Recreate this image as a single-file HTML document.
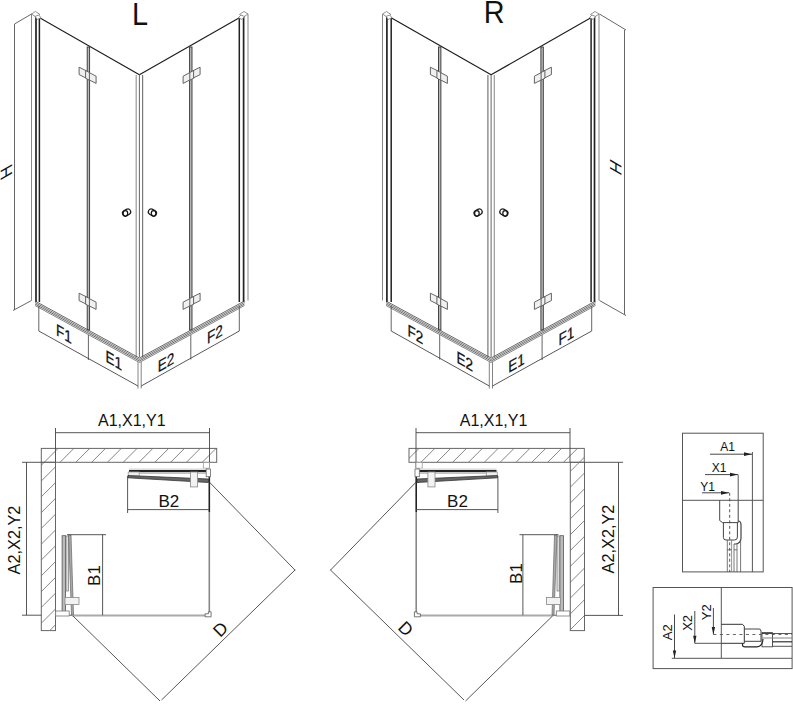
<!DOCTYPE html>
<html><head><meta charset="utf-8"><style>
html,body{margin:0;padding:0;background:#fff;}
svg{display:block;}
text{font-family:"Liberation Sans", sans-serif;fill:#111;}
</style></head><body>
<svg width="793" height="704" viewBox="0 0 793 704">
<rect width="793" height="704" fill="#fff"/>
<g id="elevL"><line x1="31.5" y1="14" x2="31.5" y2="300.5" stroke="#888" stroke-width="1" />
<line x1="36" y1="17" x2="36" y2="302" stroke="#222" stroke-width="1.7" />
<line x1="39.4" y1="17" x2="39.4" y2="302" stroke="#222" stroke-width="1.5" />
<polygon points="31.5,14 35.5,11.5 40,14.5 36,17" stroke="#777" stroke-width="0.8" fill="#fff"/>
<polygon points="35,16.5 38.5,15 41,17.5 37.5,19.5" stroke="#777" stroke-width="0.8" fill="#fff"/>
<line x1="40.5" y1="18.3" x2="139.4" y2="74.8" stroke="#1a1a1a" stroke-width="1.1" />
<line x1="139.4" y1="74.8" x2="238.5" y2="18.3" stroke="#1a1a1a" stroke-width="1.1" />
<line x1="136.2" y1="75" x2="136.2" y2="357" stroke="#999" stroke-width="1.2" />
<line x1="139.4" y1="75" x2="139.4" y2="357" stroke="#666" stroke-width="1" />
<line x1="142.6" y1="75" x2="142.6" y2="357" stroke="#777" stroke-width="1.2" />
<line x1="248" y1="14" x2="248" y2="300.5" stroke="#888" stroke-width="1" />
<line x1="243.6" y1="17" x2="243.6" y2="302" stroke="#222" stroke-width="1.7" />
<line x1="239.3" y1="17" x2="239.3" y2="302" stroke="#222" stroke-width="1.5" />
<polygon points="248,14 244,11.5 239.5,14.5 243.5,17" stroke="#777" stroke-width="0.8" fill="#fff"/>
<polygon points="244.5,16.5 241,15 238.5,17.5 242,19.5" stroke="#777" stroke-width="0.8" fill="#fff"/>
<rect x="87.2" y="47" width="2.4" height="283" fill="#bbb" stroke="#333" stroke-width="0.9"/>
<rect x="189.60000000000002" y="47" width="2.4" height="283" fill="#bbb" stroke="#333" stroke-width="0.9"/>
<polygon points="79.1,67.2 86.5,70.9 86.5,78.3 79.1,74.6" stroke="#555" stroke-width="0.9" fill="#f0f0f0"/>
<polygon points="88.75,72.3 96.1,76.2 96.1,83.4 88.75,79.7" stroke="#555" stroke-width="0.9" fill="#f0f0f0"/>
<polygon points="85.6,70.5 89.4,72.5 89.4,80.2 85.6,78.2" stroke="#555" stroke-width="0.9" fill="#f0f0f0"/>
<polygon points="79.1,293.2 86.5,296.9 86.5,304.3 79.1,300.6" stroke="#555" stroke-width="0.9" fill="#f0f0f0"/>
<polygon points="88.75,298.3 96.1,302.2 96.1,309.4 88.75,305.7" stroke="#555" stroke-width="0.9" fill="#f0f0f0"/>
<polygon points="85.6,296.5 89.4,298.5 89.4,306.2 85.6,304.2" stroke="#555" stroke-width="0.9" fill="#f0f0f0"/>
<polygon points="200.1,67.2 192.7,70.9 192.7,78.3 200.1,74.6" stroke="#555" stroke-width="0.9" fill="#f0f0f0"/>
<polygon points="190.45,72.3 183.1,76.2 183.1,83.4 190.45,79.7" stroke="#555" stroke-width="0.9" fill="#f0f0f0"/>
<polygon points="193.6,70.5 189.79999999999998,72.5 189.79999999999998,80.2 193.6,78.2" stroke="#555" stroke-width="0.9" fill="#f0f0f0"/>
<polygon points="200.1,293.2 192.7,296.9 192.7,304.3 200.1,300.6" stroke="#555" stroke-width="0.9" fill="#f0f0f0"/>
<polygon points="190.45,298.3 183.1,302.2 183.1,309.4 190.45,305.7" stroke="#555" stroke-width="0.9" fill="#f0f0f0"/>
<polygon points="193.6,296.5 189.79999999999998,298.5 189.79999999999998,306.2 193.6,304.2" stroke="#555" stroke-width="0.9" fill="#f0f0f0"/>
<line x1="127.8" y1="211.8" x2="125.4" y2="213.3" stroke="#1a1a1a" stroke-width="6.9" stroke-linecap="round"/>
<line x1="127.8" y1="211.8" x2="125.4" y2="213.3" stroke="#fff" stroke-width="4.5" stroke-linecap="round"/>
<ellipse cx="125.4" cy="213.3" rx="2.3" ry="2.7" fill="#fff" stroke="#111" stroke-width="1.2"/>
<line x1="151.2" y1="211.8" x2="153.6" y2="213.3" stroke="#1a1a1a" stroke-width="6.9" stroke-linecap="round"/>
<line x1="151.2" y1="211.8" x2="153.6" y2="213.3" stroke="#fff" stroke-width="4.5" stroke-linecap="round"/>
<ellipse cx="153.6" cy="213.3" rx="2.3" ry="2.7" fill="#fff" stroke="#111" stroke-width="1.2"/>
<line x1="35" y1="301.0" x2="139.4" y2="358.0" stroke="#444" stroke-width="0.8" />
<line x1="35" y1="302.5" x2="139.4" y2="359.5" stroke="#555" stroke-width="0.8" />
<line x1="35" y1="304.0" x2="139.4" y2="361.0" stroke="#444" stroke-width="0.8" />
<line x1="35" y1="305.5" x2="139.4" y2="362.5" stroke="#666" stroke-width="0.8" />
<line x1="139.4" y1="358.0" x2="244.5" y2="301.0" stroke="#444" stroke-width="0.8" />
<line x1="139.4" y1="359.5" x2="244.5" y2="302.5" stroke="#555" stroke-width="0.8" />
<line x1="139.4" y1="361.0" x2="244.5" y2="304.0" stroke="#444" stroke-width="0.8" />
<line x1="139.4" y1="362.5" x2="244.5" y2="305.5" stroke="#666" stroke-width="0.8" />
<line x1="38.8" y1="306" x2="38.8" y2="331" stroke="#555" stroke-width="0.9" />
<line x1="88.4" y1="335" x2="88.4" y2="360" stroke="#555" stroke-width="0.9" />
<line x1="138" y1="362" x2="138" y2="388.5" stroke="#777" stroke-width="0.9" />
<line x1="141.2" y1="362" x2="141.2" y2="388.5" stroke="#777" stroke-width="0.9" />
<line x1="190.8" y1="335" x2="190.8" y2="359.5" stroke="#555" stroke-width="0.9" />
<line x1="239.3" y1="306" x2="239.3" y2="331" stroke="#555" stroke-width="0.9" />
<line x1="38.8" y1="331" x2="138" y2="386" stroke="#444" stroke-width="0.9" />
<line x1="141.2" y1="386" x2="239.3" y2="331" stroke="#444" stroke-width="0.9" /></g>
<g transform="translate(630.5,0) scale(-1,1)"><line x1="31.5" y1="14" x2="31.5" y2="300.5" stroke="#888" stroke-width="1" />
<line x1="36" y1="17" x2="36" y2="302" stroke="#222" stroke-width="1.7" />
<line x1="39.4" y1="17" x2="39.4" y2="302" stroke="#222" stroke-width="1.5" />
<polygon points="31.5,14 35.5,11.5 40,14.5 36,17" stroke="#777" stroke-width="0.8" fill="#fff"/>
<polygon points="35,16.5 38.5,15 41,17.5 37.5,19.5" stroke="#777" stroke-width="0.8" fill="#fff"/>
<line x1="40.5" y1="18.3" x2="139.4" y2="74.8" stroke="#1a1a1a" stroke-width="1.1" />
<line x1="139.4" y1="74.8" x2="238.5" y2="18.3" stroke="#1a1a1a" stroke-width="1.1" />
<line x1="136.2" y1="75" x2="136.2" y2="357" stroke="#999" stroke-width="1.2" />
<line x1="139.4" y1="75" x2="139.4" y2="357" stroke="#666" stroke-width="1" />
<line x1="142.6" y1="75" x2="142.6" y2="357" stroke="#777" stroke-width="1.2" />
<line x1="248" y1="14" x2="248" y2="300.5" stroke="#888" stroke-width="1" />
<line x1="243.6" y1="17" x2="243.6" y2="302" stroke="#222" stroke-width="1.7" />
<line x1="239.3" y1="17" x2="239.3" y2="302" stroke="#222" stroke-width="1.5" />
<polygon points="248,14 244,11.5 239.5,14.5 243.5,17" stroke="#777" stroke-width="0.8" fill="#fff"/>
<polygon points="244.5,16.5 241,15 238.5,17.5 242,19.5" stroke="#777" stroke-width="0.8" fill="#fff"/>
<rect x="87.2" y="47" width="2.4" height="283" fill="#bbb" stroke="#333" stroke-width="0.9"/>
<rect x="189.60000000000002" y="47" width="2.4" height="283" fill="#bbb" stroke="#333" stroke-width="0.9"/>
<polygon points="79.1,67.2 86.5,70.9 86.5,78.3 79.1,74.6" stroke="#555" stroke-width="0.9" fill="#f0f0f0"/>
<polygon points="88.75,72.3 96.1,76.2 96.1,83.4 88.75,79.7" stroke="#555" stroke-width="0.9" fill="#f0f0f0"/>
<polygon points="85.6,70.5 89.4,72.5 89.4,80.2 85.6,78.2" stroke="#555" stroke-width="0.9" fill="#f0f0f0"/>
<polygon points="79.1,293.2 86.5,296.9 86.5,304.3 79.1,300.6" stroke="#555" stroke-width="0.9" fill="#f0f0f0"/>
<polygon points="88.75,298.3 96.1,302.2 96.1,309.4 88.75,305.7" stroke="#555" stroke-width="0.9" fill="#f0f0f0"/>
<polygon points="85.6,296.5 89.4,298.5 89.4,306.2 85.6,304.2" stroke="#555" stroke-width="0.9" fill="#f0f0f0"/>
<polygon points="200.1,67.2 192.7,70.9 192.7,78.3 200.1,74.6" stroke="#555" stroke-width="0.9" fill="#f0f0f0"/>
<polygon points="190.45,72.3 183.1,76.2 183.1,83.4 190.45,79.7" stroke="#555" stroke-width="0.9" fill="#f0f0f0"/>
<polygon points="193.6,70.5 189.79999999999998,72.5 189.79999999999998,80.2 193.6,78.2" stroke="#555" stroke-width="0.9" fill="#f0f0f0"/>
<polygon points="200.1,293.2 192.7,296.9 192.7,304.3 200.1,300.6" stroke="#555" stroke-width="0.9" fill="#f0f0f0"/>
<polygon points="190.45,298.3 183.1,302.2 183.1,309.4 190.45,305.7" stroke="#555" stroke-width="0.9" fill="#f0f0f0"/>
<polygon points="193.6,296.5 189.79999999999998,298.5 189.79999999999998,306.2 193.6,304.2" stroke="#555" stroke-width="0.9" fill="#f0f0f0"/>
<line x1="127.8" y1="211.8" x2="125.4" y2="213.3" stroke="#1a1a1a" stroke-width="6.9" stroke-linecap="round"/>
<line x1="127.8" y1="211.8" x2="125.4" y2="213.3" stroke="#fff" stroke-width="4.5" stroke-linecap="round"/>
<ellipse cx="125.4" cy="213.3" rx="2.3" ry="2.7" fill="#fff" stroke="#111" stroke-width="1.2"/>
<line x1="151.2" y1="211.8" x2="153.6" y2="213.3" stroke="#1a1a1a" stroke-width="6.9" stroke-linecap="round"/>
<line x1="151.2" y1="211.8" x2="153.6" y2="213.3" stroke="#fff" stroke-width="4.5" stroke-linecap="round"/>
<ellipse cx="153.6" cy="213.3" rx="2.3" ry="2.7" fill="#fff" stroke="#111" stroke-width="1.2"/>
<line x1="35" y1="301.0" x2="139.4" y2="358.0" stroke="#444" stroke-width="0.8" />
<line x1="35" y1="302.5" x2="139.4" y2="359.5" stroke="#555" stroke-width="0.8" />
<line x1="35" y1="304.0" x2="139.4" y2="361.0" stroke="#444" stroke-width="0.8" />
<line x1="35" y1="305.5" x2="139.4" y2="362.5" stroke="#666" stroke-width="0.8" />
<line x1="139.4" y1="358.0" x2="244.5" y2="301.0" stroke="#444" stroke-width="0.8" />
<line x1="139.4" y1="359.5" x2="244.5" y2="302.5" stroke="#555" stroke-width="0.8" />
<line x1="139.4" y1="361.0" x2="244.5" y2="304.0" stroke="#444" stroke-width="0.8" />
<line x1="139.4" y1="362.5" x2="244.5" y2="305.5" stroke="#666" stroke-width="0.8" />
<line x1="38.8" y1="306" x2="38.8" y2="331" stroke="#555" stroke-width="0.9" />
<line x1="88.4" y1="335" x2="88.4" y2="360" stroke="#555" stroke-width="0.9" />
<line x1="138" y1="362" x2="138" y2="388.5" stroke="#777" stroke-width="0.9" />
<line x1="141.2" y1="362" x2="141.2" y2="388.5" stroke="#777" stroke-width="0.9" />
<line x1="190.8" y1="335" x2="190.8" y2="359.5" stroke="#555" stroke-width="0.9" />
<line x1="239.3" y1="306" x2="239.3" y2="331" stroke="#555" stroke-width="0.9" />
<line x1="38.8" y1="331" x2="138" y2="386" stroke="#444" stroke-width="0.9" />
<line x1="141.2" y1="386" x2="239.3" y2="331" stroke="#444" stroke-width="0.9" /></g>

<g stroke="#555" stroke-width="0.9"><line x1="14.5" y1="24" x2="14.5" y2="310"/><line x1="14.5" y1="24" x2="31.5" y2="14"/><line x1="13" y1="310.5" x2="31.5" y2="300.5"/><line x1="624.5" y1="30" x2="624.5" y2="314.4"/><line x1="599.5" y1="14" x2="626" y2="30"/><line x1="599.5" y1="300.5" x2="626" y2="315.5"/></g>
<text x="0" y="0" font-size="31" text-anchor="middle" transform="translate(140,24.7) scale(0.93,1)" >L</text>
<text x="0" y="0" font-size="31" text-anchor="middle" transform="translate(494.2,23.1) scale(0.93,1)" >R</text>
<text x="0" y="0" font-size="16.5" text-anchor="middle" transform="translate(12.3,168.8) skewY(-30) rotate(-90)" >H</text>
<text x="0" y="0" font-size="16.5" text-anchor="middle" transform="translate(610.2,163.9) skewY(30) rotate(90)" >H</text>
<text x="0" y="0" font-size="16.5" text-anchor="middle" transform="translate(64,339.5) skewY(30) scale(0.82,1)" stroke="#111" stroke-width="0.25">F1</text>
<text x="0" y="0" font-size="16.5" text-anchor="middle" transform="translate(113.8,366) skewY(30) scale(0.82,1)" stroke="#111" stroke-width="0.25">E1</text>
<text x="0" y="0" font-size="16.5" text-anchor="middle" transform="translate(166,368) skewY(-30) scale(0.82,1)" stroke="#111" stroke-width="0.25">E2</text>
<text x="0" y="0" font-size="16.5" text-anchor="middle" transform="translate(215,339.7) skewY(-30) scale(0.82,1)" stroke="#111" stroke-width="0.25">F2</text>
<text x="0" y="0" font-size="16.5" text-anchor="middle" transform="translate(415.5,340) skewY(30) scale(0.82,1)" stroke="#111" stroke-width="0.25">F2</text>
<text x="0" y="0" font-size="16.5" text-anchor="middle" transform="translate(464.8,367) skewY(30) scale(0.82,1)" stroke="#111" stroke-width="0.25">E2</text>
<text x="0" y="0" font-size="16.5" text-anchor="middle" transform="translate(516.5,368.5) skewY(-30) scale(0.82,1)" stroke="#111" stroke-width="0.25">E1</text>
<text x="0" y="0" font-size="16.5" text-anchor="middle" transform="translate(566.5,341.5) skewY(-30) scale(0.82,1)" stroke="#111" stroke-width="0.25">F1</text>
<clipPath id="c1"><rect x="41.3" y="448.4" width="175.39999999999998" height="13.900000000000034"/></clipPath>
<g clip-path="url(#c1)" stroke="#666" stroke-width="0.8">
<line x1="12.599999999999909" y1="462.3" x2="26.499999999999943" y2="448.4"/>
<line x1="28.39999999999992" y1="462.3" x2="42.299999999999955" y2="448.4"/>
<line x1="44.19999999999993" y1="462.3" x2="58.099999999999966" y2="448.4"/>
<line x1="59.99999999999994" y1="462.3" x2="73.89999999999998" y2="448.4"/>
<line x1="75.7999999999999" y1="462.3" x2="89.69999999999993" y2="448.4"/>
<line x1="91.59999999999985" y1="462.3" x2="105.49999999999989" y2="448.4"/>
<line x1="107.3999999999998" y1="462.3" x2="121.29999999999984" y2="448.4"/>
<line x1="123.19999999999976" y1="462.3" x2="137.0999999999998" y2="448.4"/>
<line x1="138.99999999999972" y1="462.3" x2="152.89999999999975" y2="448.4"/>
<line x1="154.79999999999967" y1="462.3" x2="168.6999999999997" y2="448.4"/>
<line x1="170.59999999999962" y1="462.3" x2="184.49999999999966" y2="448.4"/>
<line x1="186.39999999999958" y1="462.3" x2="200.2999999999996" y2="448.4"/>
<line x1="202.19999999999953" y1="462.3" x2="216.09999999999957" y2="448.4"/>
<line x1="217.9999999999995" y1="462.3" x2="231.89999999999952" y2="448.4"/>
</g>
<rect x="41.3" y="448.4" width="175.39999999999998" height="13.900000000000034" fill="none" stroke="#666" stroke-width="1"/>
<clipPath id="c2"><rect x="41.3" y="462.3" width="14.200000000000003" height="168.3"/></clipPath>
<g clip-path="url(#c2)" stroke="#666" stroke-width="0.8">
<line x1="-139.9000000000001" y1="630.6" x2="28.39999999999992" y2="462.3"/>
<line x1="-124.10000000000008" y1="630.6" x2="44.19999999999993" y2="462.3"/>
<line x1="-108.30000000000007" y1="630.6" x2="59.99999999999994" y2="462.3"/>
<line x1="-92.50000000000011" y1="630.6" x2="75.7999999999999" y2="462.3"/>
<line x1="-76.70000000000016" y1="630.6" x2="91.59999999999985" y2="462.3"/>
<line x1="-60.900000000000205" y1="630.6" x2="107.3999999999998" y2="462.3"/>
<line x1="-45.10000000000025" y1="630.6" x2="123.19999999999976" y2="462.3"/>
<line x1="-29.300000000000296" y1="630.6" x2="138.99999999999972" y2="462.3"/>
<line x1="-13.500000000000341" y1="630.6" x2="154.79999999999967" y2="462.3"/>
<line x1="2.2999999999996135" y1="630.6" x2="170.59999999999962" y2="462.3"/>
<line x1="18.099999999999568" y1="630.6" x2="186.39999999999958" y2="462.3"/>
<line x1="33.89999999999952" y1="630.6" x2="202.19999999999953" y2="462.3"/>
<line x1="49.69999999999948" y1="630.6" x2="217.9999999999995" y2="462.3"/>
<line x1="65.49999999999943" y1="630.6" x2="233.79999999999944" y2="462.3"/>
</g>
<rect x="41.3" y="462.3" width="14.200000000000003" height="168.3" fill="none" stroke="#666" stroke-width="1"/>
<clipPath id="c3"><rect x="409" y="448.4" width="175.29999999999995" height="13.900000000000034"/></clipPath>
<g clip-path="url(#c3)" stroke="#666" stroke-width="0.8">
<line x1="389.25999999999993" y1="462.3" x2="403.15999999999997" y2="448.4"/>
<line x1="405.09999999999997" y1="462.3" x2="419.0" y2="448.4"/>
<line x1="420.94" y1="462.3" x2="434.84000000000003" y2="448.4"/>
<line x1="436.78000000000003" y1="462.3" x2="450.68000000000006" y2="448.4"/>
<line x1="452.62000000000006" y1="462.3" x2="466.5200000000001" y2="448.4"/>
<line x1="468.4600000000001" y1="462.3" x2="482.3600000000001" y2="448.4"/>
<line x1="484.3000000000001" y1="462.3" x2="498.20000000000016" y2="448.4"/>
<line x1="500.14000000000016" y1="462.3" x2="514.0400000000002" y2="448.4"/>
<line x1="515.9800000000002" y1="462.3" x2="529.8800000000002" y2="448.4"/>
<line x1="531.8200000000002" y1="462.3" x2="545.7200000000003" y2="448.4"/>
<line x1="547.6600000000003" y1="462.3" x2="561.5600000000003" y2="448.4"/>
<line x1="563.5000000000002" y1="462.3" x2="577.4000000000002" y2="448.4"/>
<line x1="579.3400000000001" y1="462.3" x2="593.2400000000001" y2="448.4"/>
<line x1="595.1800000000001" y1="462.3" x2="609.08" y2="448.4"/>
</g>
<rect x="409" y="448.4" width="175.29999999999995" height="13.900000000000034" fill="none" stroke="#666" stroke-width="1"/>
<clipPath id="c4"><rect x="570.3" y="462.3" width="14.200000000000045" height="168.3"/></clipPath>
<g clip-path="url(#c4)" stroke="#666" stroke-width="0.8">
<line x1="236.79999999999995" y1="630.6" x2="405.09999999999997" y2="462.3"/>
<line x1="252.64" y1="630.6" x2="420.94" y2="462.3"/>
<line x1="268.48" y1="630.6" x2="436.78000000000003" y2="462.3"/>
<line x1="284.32000000000005" y1="630.6" x2="452.62000000000006" y2="462.3"/>
<line x1="300.1600000000001" y1="630.6" x2="468.4600000000001" y2="462.3"/>
<line x1="316.0000000000001" y1="630.6" x2="484.3000000000001" y2="462.3"/>
<line x1="331.84000000000015" y1="630.6" x2="500.14000000000016" y2="462.3"/>
<line x1="347.6800000000002" y1="630.6" x2="515.9800000000002" y2="462.3"/>
<line x1="363.5200000000002" y1="630.6" x2="531.8200000000002" y2="462.3"/>
<line x1="379.36000000000024" y1="630.6" x2="547.6600000000003" y2="462.3"/>
<line x1="395.20000000000016" y1="630.6" x2="563.5000000000002" y2="462.3"/>
<line x1="411.0400000000001" y1="630.6" x2="579.3400000000001" y2="462.3"/>
<line x1="426.88" y1="630.6" x2="595.1800000000001" y2="462.3"/>
<line x1="442.7199999999999" y1="630.6" x2="611.02" y2="462.3"/>
<line x1="458.55999999999983" y1="630.6" x2="626.8599999999999" y2="462.3"/>
<line x1="474.39999999999975" y1="630.6" x2="642.6999999999998" y2="462.3"/>
<line x1="490.23999999999967" y1="630.6" x2="658.5399999999997" y2="462.3"/>
<line x1="506.0799999999996" y1="630.6" x2="674.3799999999997" y2="462.3"/>
<line x1="521.9199999999995" y1="630.6" x2="690.2199999999996" y2="462.3"/>
<line x1="537.7599999999994" y1="630.6" x2="706.0599999999995" y2="462.3"/>
<line x1="553.5999999999993" y1="630.6" x2="721.8999999999994" y2="462.3"/>
<line x1="569.4399999999993" y1="630.6" x2="737.7399999999993" y2="462.3"/>
<line x1="585.2799999999992" y1="630.6" x2="753.5799999999992" y2="462.3"/>
</g>
<rect x="570.3" y="462.3" width="14.200000000000045" height="168.3" fill="none" stroke="#666" stroke-width="1"/>
<g><line x1="55.5" y1="428" x2="55.5" y2="462.3" stroke="#444" stroke-width="0.9"/>
<line x1="209.5" y1="428" x2="209.5" y2="468" stroke="#444" stroke-width="0.9"/>
<line x1="55.5" y1="432.7" x2="209.5" y2="432.7" stroke="#444" stroke-width="0.9"/>
<line x1="55.5" y1="615.2" x2="73" y2="615.2" stroke="#444" stroke-width="0.9"/>
<line x1="209.3" y1="476" x2="209.3" y2="512" stroke="#222" stroke-width="1.6"/>
<line x1="209.3" y1="512" x2="209.3" y2="612" stroke="#888" stroke-width="1.6"/>
<line x1="72" y1="615.6" x2="206" y2="615.6" stroke="#aaa" stroke-width="2"/>
<polygon points="205.1,613.8 208.4,613.8 208.4,611.8 211.1,611.8 211.1,616.8 205.1,616.8" fill="#fff" stroke="#555" stroke-width="0.8"/>
<rect x="203.3" y="462.4" width="6.2" height="5.8" stroke="#999" stroke-width="0.8" fill="#fff"/>
<rect x="129" y="468.4" width="77" height="2.2" fill="#ddd"/>
<line x1="129" y1="471" x2="206" y2="471" stroke="#222" stroke-width="1.8"/>
<line x1="129" y1="473" x2="206" y2="473" stroke="#888" stroke-width="1"/>
<rect x="206.2" y="469" width="4.3" height="7.7" stroke="#666" stroke-width="0.8" fill="#fff"/>
<rect x="128.2" y="472" width="11" height="4.5" stroke="#999" stroke-width="0.8" fill="#eee"/>
<polygon points="128,475.5 208.5,479 208.5,482.5 128,477.8" fill="#666" stroke="#333" stroke-width="0.8"/>
<rect x="190.5" y="472" width="7.1" height="14.9" stroke="#888" stroke-width="0.8" fill="#f2f2f2"/>
<line x1="127.6" y1="476" x2="127.6" y2="513" stroke="#444" stroke-width="0.9"/>
<line x1="127.6" y1="509.6" x2="209.3" y2="509.6" stroke="#444" stroke-width="0.9"/>
<rect x="62.1" y="535.7" width="3.5" height="76" fill="#bbb" stroke="#555" stroke-width="0.8"/>
<rect x="66" y="536" width="2.5" height="55" fill="#ddd" stroke="#777" stroke-width="0.7"/>
<polygon points="68.5,535 71,535 73.5,615 71.5,615" fill="#aaa" stroke="#666" stroke-width="0.7"/>
<rect x="65" y="597.5" width="14" height="7" stroke="#888" stroke-width="0.8" fill="#f2f2f2"/>
<rect x="55.7" y="611" width="13.5" height="5" stroke="#777" stroke-width="0.8" fill="#fff"/>
<line x1="67" y1="534.7" x2="106" y2="534.7" stroke="#444" stroke-width="0.9"/>
<line x1="102.6" y1="534.7" x2="102.6" y2="615.2" stroke="#444" stroke-width="0.9"/>
<line x1="73" y1="616" x2="160" y2="701" stroke="#444" stroke-width="0.9"/>
<line x1="209.3" y1="482" x2="295.2" y2="570.3" stroke="#444" stroke-width="0.9"/>
<line x1="161.5" y1="700" x2="295.2" y2="569.8" stroke="#444" stroke-width="0.9"/></g>
<g stroke="#444" stroke-width="0.9"><line x1="22" y1="462.3" x2="41.3" y2="462.3"/><line x1="22" y1="615.2" x2="41.3" y2="615.2"/><line x1="26.5" y1="462.3" x2="26.5" y2="615.2"/><line x1="584.5" y1="462.3" x2="623" y2="462.3"/><line x1="584.5" y1="615.4" x2="623" y2="615.4"/><line x1="618.5" y1="462.3" x2="618.5" y2="615.4"/></g>
<g transform="translate(625.5,0) scale(-1,1)"><line x1="55.5" y1="428" x2="55.5" y2="462.3" stroke="#444" stroke-width="0.9"/>
<line x1="209.5" y1="428" x2="209.5" y2="468" stroke="#444" stroke-width="0.9"/>
<line x1="55.5" y1="432.7" x2="209.5" y2="432.7" stroke="#444" stroke-width="0.9"/>
<line x1="55.5" y1="615.2" x2="73" y2="615.2" stroke="#444" stroke-width="0.9"/>
<line x1="209.3" y1="476" x2="209.3" y2="512" stroke="#222" stroke-width="1.6"/>
<line x1="209.3" y1="512" x2="209.3" y2="612" stroke="#888" stroke-width="1.6"/>
<line x1="72" y1="615.6" x2="206" y2="615.6" stroke="#aaa" stroke-width="2"/>
<polygon points="205.1,613.8 208.4,613.8 208.4,611.8 211.1,611.8 211.1,616.8 205.1,616.8" fill="#fff" stroke="#555" stroke-width="0.8"/>
<rect x="203.3" y="462.4" width="6.2" height="5.8" stroke="#999" stroke-width="0.8" fill="#fff"/>
<rect x="129" y="468.4" width="77" height="2.2" fill="#ddd"/>
<line x1="129" y1="471" x2="206" y2="471" stroke="#222" stroke-width="1.8"/>
<line x1="129" y1="473" x2="206" y2="473" stroke="#888" stroke-width="1"/>
<rect x="206.2" y="469" width="4.3" height="7.7" stroke="#666" stroke-width="0.8" fill="#fff"/>
<rect x="128.2" y="472" width="11" height="4.5" stroke="#999" stroke-width="0.8" fill="#eee"/>
<polygon points="128,475.5 208.5,479 208.5,482.5 128,477.8" fill="#666" stroke="#333" stroke-width="0.8"/>
<rect x="190.5" y="472" width="7.1" height="14.9" stroke="#888" stroke-width="0.8" fill="#f2f2f2"/>
<line x1="127.6" y1="476" x2="127.6" y2="513" stroke="#444" stroke-width="0.9"/>
<line x1="127.6" y1="509.6" x2="209.3" y2="509.6" stroke="#444" stroke-width="0.9"/>
<rect x="62.1" y="535.7" width="3.5" height="76" fill="#bbb" stroke="#555" stroke-width="0.8"/>
<rect x="66" y="536" width="2.5" height="55" fill="#ddd" stroke="#777" stroke-width="0.7"/>
<polygon points="68.5,535 71,535 73.5,615 71.5,615" fill="#aaa" stroke="#666" stroke-width="0.7"/>
<rect x="65" y="597.5" width="14" height="7" stroke="#888" stroke-width="0.8" fill="#f2f2f2"/>
<rect x="55.7" y="611" width="13.5" height="5" stroke="#777" stroke-width="0.8" fill="#fff"/>
<line x1="67" y1="534.7" x2="106" y2="534.7" stroke="#444" stroke-width="0.9"/>
<line x1="102.6" y1="534.7" x2="102.6" y2="615.2" stroke="#444" stroke-width="0.9"/>
<line x1="73" y1="616" x2="160" y2="701" stroke="#444" stroke-width="0.9"/>
<line x1="209.3" y1="482" x2="295.2" y2="570.3" stroke="#444" stroke-width="0.9"/>
<line x1="161.5" y1="700" x2="295.2" y2="569.8" stroke="#444" stroke-width="0.9"/></g>
<text x="0" y="0" font-size="16" text-anchor="middle" transform="translate(131.8,425.6) " >A1,X1,Y1</text>
<text x="0" y="0" font-size="16" text-anchor="middle" transform="translate(493.5,425.6) " >A1,X1,Y1</text>
<text x="0" y="0" font-size="17" text-anchor="middle" transform="translate(168.8,506.5) " >B2</text>
<text x="0" y="0" font-size="17" text-anchor="middle" transform="translate(457.5,506.5) " >B2</text>
<text x="0" y="0" font-size="17" text-anchor="middle" transform="translate(99.5,575.5) rotate(-90)" >B1</text>
<text x="0" y="0" font-size="17" text-anchor="middle" transform="translate(521.8,573.5) rotate(-90)" >B1</text>
<text x="0" y="0" font-size="16.3" text-anchor="middle" transform="translate(20.3,540) rotate(-90)" >A2,X2,Y2</text>
<text x="0" y="0" font-size="16.3" text-anchor="middle" transform="translate(614,539) rotate(-90)" >A2,X2,Y2</text>
<text x="0" y="0" font-size="17.5" text-anchor="middle" transform="translate(224.7,633.5) rotate(-45)" >D</text>
<text x="0" y="0" font-size="17.5" text-anchor="middle" transform="translate(401.5,633) rotate(45)" >D</text>

<rect x="682.5" y="433.2" width="80.7" height="138.7" fill="none" stroke="#555" stroke-width="1"/>
<line x1="682.5" y1="500.3" x2="763.2" y2="500.3" stroke="#555" stroke-width="1"/>
<line x1="752.4" y1="452" x2="752.4" y2="572" stroke="#555" stroke-width="1"/>
<line x1="710" y1="454.2" x2="752" y2="454.2" stroke="#333" stroke-width="0.9"/>
<polygon points="752,454.2 744,452.3 744,456.1" fill="#222"/>
<line x1="705" y1="474.6" x2="738" y2="474.6" stroke="#333" stroke-width="0.9"/>
<polygon points="738,474.6 730,472.7 730,476.5" fill="#222"/>
<line x1="738.2" y1="474.6" x2="738.2" y2="500" stroke="#444" stroke-width="0.9"/>
<line x1="702" y1="492.8" x2="729" y2="492.8" stroke="#333" stroke-width="0.9"/>
<polygon points="729,492.8 721,490.9 721,494.7" fill="#222"/>
<path d="M719.7,500.3 V520.5 L722.5,522.6 H738.2 V500.3" fill="none" stroke="#444" stroke-width="1"/>
<path d="M723.4,522.6 V537.5 Q723.4,540 726,540 H734.5 Q737.4,540 737.4,537 V522.6" fill="none" stroke="#444" stroke-width="1"/>
<path d="M738.2,521 Q741,521 741,525 V538 Q741,543 736,544 H734" fill="none" stroke="#444" stroke-width="1.2"/>
<line x1="727.3" y1="540" x2="727.3" y2="572" stroke="#555" stroke-width="0.8"/>
<line x1="731.6" y1="540" x2="731.6" y2="572" stroke="#777" stroke-width="0.8"/>
<line x1="734" y1="544" x2="734" y2="572" stroke="#555" stroke-width="0.8"/>
<line x1="737" y1="544" x2="737" y2="572" stroke="#555" stroke-width="0.8"/>
<line x1="740.6" y1="540" x2="740.6" y2="572" stroke="#555" stroke-width="0.8"/>
<line x1="727" y1="549.8" x2="731.6" y2="549.8" stroke="#555" stroke-width="0.8"/>
<line x1="734" y1="549.8" x2="737" y2="549.8" stroke="#555" stroke-width="0.8"/>
<line x1="729.7" y1="492.8" x2="729.7" y2="572" stroke="#444" stroke-width="0.9" stroke-dasharray="3,2.5"/>

<text x="0" y="0" font-size="12" text-anchor="middle" transform="translate(727.6,450.7) " >A1</text>
<text x="0" y="0" font-size="12" text-anchor="middle" transform="translate(719,471.8) " >X1</text>
<text x="0" y="0" font-size="12" text-anchor="middle" transform="translate(707.5,490.5) " >Y1</text>

<rect x="653.1" y="587.5" width="139" height="81.1" fill="none" stroke="#555" stroke-width="1"/>
<line x1="721.3" y1="587.5" x2="721.3" y2="658.3" stroke="#555" stroke-width="1"/>
<line x1="671.8" y1="658.3" x2="792" y2="658.3" stroke="#555" stroke-width="1"/>
<line x1="674.5" y1="614.5" x2="674.5" y2="658" stroke="#333" stroke-width="0.9"/>
<polygon points="674.5,658 672.8,650.5 676.2,650.5" fill="#222"/>
<line x1="694.8" y1="611" x2="694.8" y2="643.3" stroke="#333" stroke-width="0.9"/>
<polygon points="694.8,643.3 693.1,635.8 696.5,635.8" fill="#222"/>
<line x1="694.8" y1="643.3" x2="721" y2="643.3" stroke="#444" stroke-width="0.9"/>
<line x1="713.4" y1="608" x2="713.4" y2="634.5" stroke="#333" stroke-width="0.9"/>
<polygon points="713.4,634.5 711.7,627 715.1,627" fill="#222"/>
<path d="M721.3,624.3 H742.5 L744.3,626.3 V643.3 H721.3" fill="none" stroke="#333" stroke-width="1"/>
<path d="M744.3,629 H759 Q761,629 761,631 V641.3 H744.3" fill="none" stroke="#444" stroke-width="1"/>
<path d="M742.5,643.3 V645 Q742.5,646.8 745,646.8 H757 Q762.5,646.8 763,639" fill="none" stroke="#222" stroke-width="1.2"/>
<rect x="762" y="632.8" width="10.5" height="14" fill="none" stroke="#444" stroke-width="0.9"/>
<line x1="762" y1="633.2" x2="772.5" y2="633.2" stroke="#222" stroke-width="1.2"/>
<line x1="763" y1="638" x2="792" y2="638" stroke="#777" stroke-width="0.9"/>
<line x1="772.5" y1="633.5" x2="792" y2="633.5" stroke="#444" stroke-width="0.9"/>
<line x1="772.5" y1="641.8" x2="792" y2="641.8" stroke="#222" stroke-width="1.1"/>
<line x1="772.5" y1="646.3" x2="792" y2="646.3" stroke="#444" stroke-width="0.9"/>
<line x1="713.4" y1="634.5" x2="792" y2="634.5" stroke="#555" stroke-width="0.9" stroke-dasharray="3,3.5"/>

<text x="0" y="0" font-size="13" text-anchor="middle" transform="translate(672,632.3) rotate(-90)" >A2</text>
<text x="0" y="0" font-size="13" text-anchor="middle" transform="translate(692.3,622.9) rotate(-90)" >X2</text>
<text x="0" y="0" font-size="13" text-anchor="middle" transform="translate(710.7,612.2) rotate(-90)" >Y2</text>
</svg></body></html>
